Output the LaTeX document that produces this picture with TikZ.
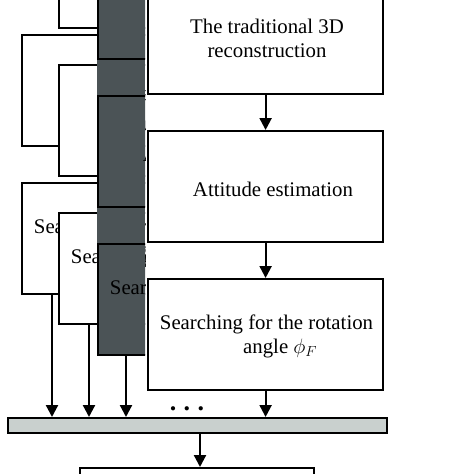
\RequirePackage{fix-cm}
\documentclass[tikz,border=0pt]{standalone}
\usepackage{fontspec}
\setmainfont{Liberation Serif}
\usetikzlibrary{arrows.meta}
\definecolor{darkfill}{HTML}{4B5356}
\definecolor{barfill}{HTML}{C9D0CE}
\tikzset{
  pbox/.style={draw=black, line width=2.2pt, minimum width=235pt, minimum height=111pt, inner sep=0pt, anchor=north west},
  lbl/.style={inner sep=0pt, anchor=base, font=\fontsize{20.8}{24}\selectfont},
  arr/.style={line width=2.2pt, -{Triangle[length=12pt,width=12pt]}},
}
\newcommand\pipelayer[4]{%
  \begin{scope}[shift={(#2,#3)}]
    \node[pbox, fill=#4] (#1a) at (0,-296) {};
    \node[lbl] (#1at1) at (120,-245) {The traditional 3D};
    \node[lbl] (#1at2) at (120,-221) {reconstruction};
    \node[pbox, fill=#4] (#1b) at (0,-148) {};
    \node[lbl] (#1bt) at (126,-82) {Attitude estimation};
    \node[pbox, fill=#4] (#1c) at (0,0) {};
    \node[lbl] (#1ct1) at (119.5,51) {Searching for the rotation};
    \node[lbl, anchor=base west] (#1ct2) at (96,75) {angle $\phi_F$};
  \end{scope}}
\begin{document}
\begin{tikzpicture}[x=1pt, y=-1pt]
\useasboundingbox (0,0) rectangle (474,474);
\clip (0,0) rectangle (474,474);
\fill[white] (0,0) rectangle (474,474);
% layers behind
\begin{scope}
  \clip (0,-400) rectangle (145,474);
  \pipelayer{A}{21}{182}{white}
  \pipelayer{B}{58}{212}{white}
  \fill[darkfill] (97,-10) rectangle (145,355);
  \pipelayer{C}{97}{243}{darkfill}
\end{scope}
% front layer
\pipelayer{D}{147}{278}{white}
% bar and bottom box
\node[draw=black, line width=2.2pt, fill=barfill, minimum width=379pt, minimum height=15pt, inner sep=0pt, anchor=north west] (bar) at (7,417) {};
\node[pbox, minimum width=234pt] (bot) at (79,467) {};
% connectors
\coordinate (xa) at (52,0);
\coordinate (xb) at (89,0);
\coordinate (xc) at (126,0);
\coordinate (xo) at (200,0);
\draw[arr] (Da.south) -- (Db.north);
\draw[arr] (Db.south) -- (Dc.north);
\draw[arr] (Dc.south) -- (Dc.south |- bar.north);
\draw[arr] (Ac.south -| xa) -- (bar.north -| xa);
\draw[arr] (Bc.south -| xb) -- (bar.north -| xb);
\draw[arr] (Cc.south -| xc) -- (bar.north -| xc);
\draw[arr] (bar.south -| xo) -- (bot.north -| xo);
\node[inner sep=0pt, anchor=base, font=\fontsize{26}{26}\selectfont\bfseries] (dots) at (187,410) {.\kern7.5pt.\kern7.5pt.};
\end{tikzpicture}
\end{document}
